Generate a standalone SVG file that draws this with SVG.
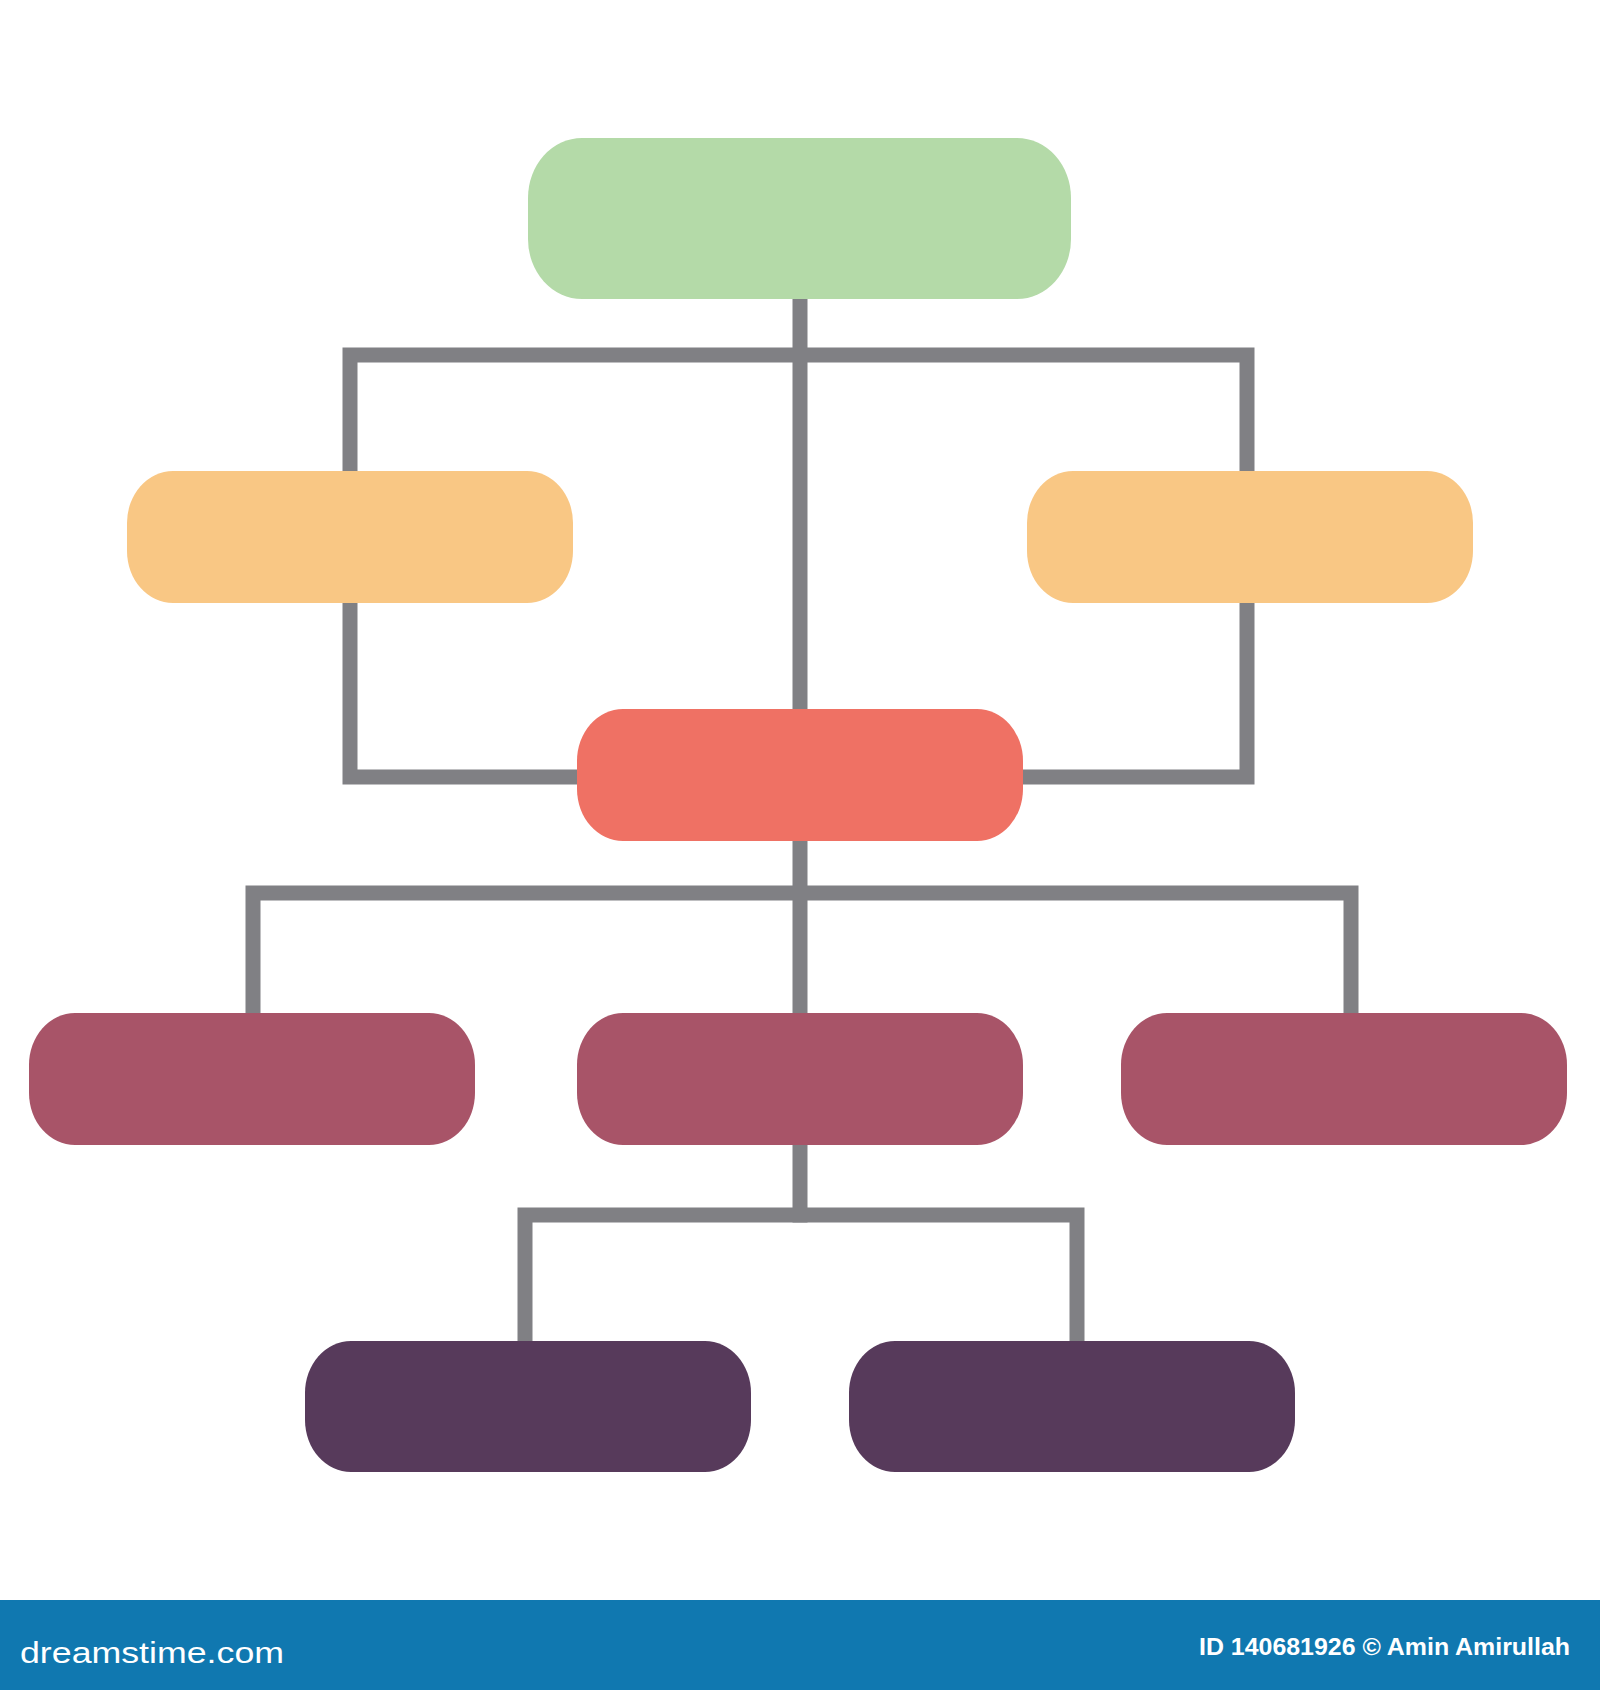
<svg xmlns="http://www.w3.org/2000/svg" width="1600" height="1690" viewBox="0 0 1600 1690">
  <style>
    .wire { fill: none; stroke: #808084; stroke-width: 15; stroke-linecap: square; stroke-linejoin: miter; }
    .green { fill: #b4daa8; }
    .orange { fill: #f9c784; }
    .red { fill: #ef7164; }
    .maroon { fill: #a85468; }
    .purple { fill: #573a5b; }
    .foot { fill: #ffffff; font-family: "Liberation Sans", Arial, sans-serif; }
  </style>
  <rect x="0" y="0" width="1600" height="1690" fill="#ffffff"/>
  <g id="connectors">
    <polyline class="wire" points="800,299 800,709"/>
    <polyline class="wire" points="350,480 350,355 1247,355 1247,480"/>
    <polyline class="wire" points="350,600 350,777 590,777"/>
    <polyline class="wire" points="1010,777 1247,777 1247,600"/>
    <polyline class="wire" points="800,840 800,1013"/>
    <polyline class="wire" points="253,1013 253,893 1351,893 1351,1013"/>
    <polyline class="wire" points="800,1144 800,1215"/>
    <polyline class="wire" points="525,1341 525,1215 1077,1215 1077,1341"/>
  </g>
  <g id="node-top"><rect class="green" x="528" y="138" width="543" height="161" rx="54" ry="60"/></g>
  <g id="node-left"><rect class="orange" x="127" y="471" width="446" height="132" rx="46" ry="52"/></g>
  <g id="node-right"><rect class="orange" x="1027" y="471" width="446" height="132" rx="46" ry="52"/></g>
  <g id="node-center"><rect class="red" x="577" y="709" width="446" height="132" rx="46" ry="52"/></g>
  <g id="node-row3-left"><rect class="maroon" x="29" y="1013" width="446" height="132" rx="46" ry="52"/></g>
  <g id="node-row3-mid"><rect class="maroon" x="577" y="1013" width="446" height="132" rx="46" ry="52"/></g>
  <g id="node-row3-right"><rect class="maroon" x="1121" y="1013" width="446" height="132" rx="46" ry="52"/></g>
  <g id="node-row4-left"><rect class="purple" x="305" y="1341" width="446" height="131" rx="46" ry="52"/></g>
  <g id="node-row4-right"><rect class="purple" x="849" y="1341" width="446" height="131" rx="46" ry="52"/></g>
  <g id="footer">
    <rect x="0" y="1600" width="1600" height="90" fill="#1078b0"/>
    <text class="foot" x="20" y="1663" font-size="30" textLength="264" lengthAdjust="spacingAndGlyphs">dreamstime.com</text>
    <text class="foot" x="1199" y="1655" font-size="23" font-weight="bold" textLength="371" lengthAdjust="spacingAndGlyphs">ID 140681926 © Amin Amirullah</text>
  </g>
</svg>
